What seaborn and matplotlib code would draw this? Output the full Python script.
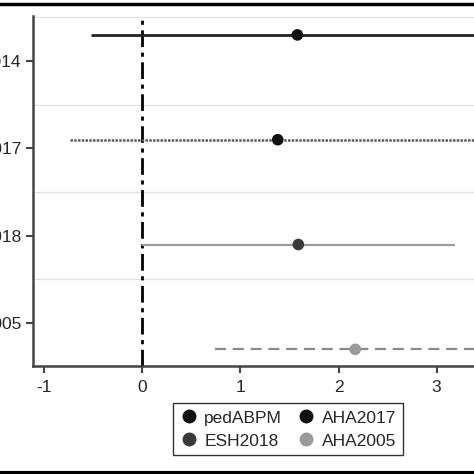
import numpy as np
import pandas as pd
import matplotlib
matplotlib.use('Agg')
import matplotlib.pyplot as plt
from matplotlib.lines import Line2D
import seaborn as sb

# guideline rows (top to bottom) and the series plotted on each row
rows = ['pedABPM2014', 'AHA2017', 'ESH2018', 'AHA2005']
series = ['pedABPM', 'AHA2017', 'ESH2018', 'AHA2005']
offsets = [-0.3, -0.1, 0.1, 0.3]
estimate = [1.58, 1.38, 1.59, 2.17]
lower = [-0.52, -0.74, 0.0, 0.74]
upper = [3.9, 3.7, 3.19, 4.0]
colors = ['#111111', '#111111', '#3a3a3a', '#9a9a9a']
line_colors = ['#222222', '#5a5a5a', '#9c9c9c', '#8a8a8a']
line_styles = ['-', (0, (1, 0.5)), '-', (0, (5, 3))]
line_widths = [2.0, 1.8, 1.6, 1.6]

df = pd.DataFrame({
    'series': series,
    'y': [i + 1 + o for i, o in enumerate(offsets)],
    'est': estimate,
    'lo': lower,
    'hi': upper,
})

sb.set_style('white')
plt.rcParams['font.family'] = ['Liberation Sans', 'DejaVu Sans']
plt.rcParams['axes.unicode_minus'] = False

fig = plt.figure(figsize=(4.74, 4.74), dpi=100)
ax = fig.add_axes([0.0696, 0.228, 1.10, 0.738])

# reference line at zero
ax.axvline(0, color='black', lw=2, ls=(0, (6, 2, 1.5, 2)), zorder=1)

# separators between rows
for yy in [0.5, 1.5, 2.5, 3.5]:
    ax.axhline(yy, color='#e2e2e2', lw=1, zorder=0)

for _, r in df.iterrows():
    i = series.index(r['series'])
    ax.hlines(r['y'], r['lo'], r['hi'], colors=line_colors[i],
              linestyles=line_styles[i], lw=line_widths[i], zorder=2)

sb.scatterplot(data=df, x='est', y='y', hue='series', palette=colors,
               s=70, edgecolor='none', ax=ax, zorder=3, legend=False)

ax.set_xlim(-1.115, 4.2)
ax.set_ylim(4.49, 0.485)
ax.set_xticks([-1, 0, 1, 2, 3])
ax.set_yticks([1, 2, 3, 4])
ax.set_yticklabels(rows)
ax.set_xlabel('')
ax.set_ylabel('')
ax.tick_params(axis='both', direction='out', length=5, width=1.5,
               color='#444444', labelsize=12.5, left=True, bottom=True, pad=3)
ax.tick_params(axis='x', pad=5)
for side in ['top', 'right']:
    ax.spines[side].set_visible(False)
for side in ['left', 'bottom']:
    ax.spines[side].set_color('#444444')
    ax.spines[side].set_linewidth(1.8)

# legend filled row by row: pedABPM, AHA2017 / ESH2018, AHA2005
order = [0, 2, 1, 3]
handles = [Line2D([], [], marker='o', ls='', color=colors[k], markersize=9) for k in order]
labels = [series[k] for k in order]
leg = fig.legend(handles, labels, ncol=2, loc='center',
                 bbox_to_anchor=(0.608, 0.094), bbox_transform=fig.transFigure,
                 fontsize=12.5, frameon=True, fancybox=False, handletextpad=0.4,
                 columnspacing=0.9, borderpad=0.4, labelspacing=0.45,
                 handlelength=1.0)
leg.get_frame().set_edgecolor('black')
leg.get_frame().set_linewidth(1.0)

# thick border lines at top and bottom of the image
fig.add_artist(Line2D([0, 1], [0.992, 0.992], color='black', lw=2.5,
                      transform=fig.transFigure))
fig.add_artist(Line2D([0, 1], [0.003, 0.003], color='black', lw=3,
                      transform=fig.transFigure))

fig.savefig('out.png', dpi=100)
